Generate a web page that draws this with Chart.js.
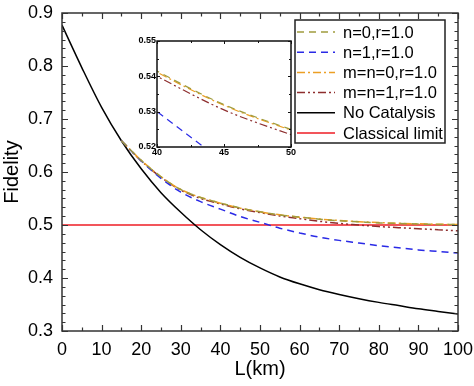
<!DOCTYPE html>
<html>
<head>
<meta charset="utf-8">
<script src="https://cdn.jsdelivr.net/npm/chart.js@4.4.0/dist/chart.umd.min.js"></script>
<style>
  html, body { margin: 0; padding: 0; background: #fff; }
  #wrap { position: relative; width: 474px; height: 386px; overflow: hidden; }
  #main { position: absolute; left: 0; top: 0; }
  #inset { position: absolute; left: 120px; top: 30px; }
</style>
</head>
<body>
<div id="wrap">
  <canvas id="main" width="474" height="386"></canvas>
  <canvas id="inset" width="180" height="135"></canvas>
</div>
<script>
// distance in km
const L = [0, 5, 10, 15, 20, 25, 30, 35, 40, 45, 50, 55, 60, 65, 70, 75, 80, 85, 90, 95, 100];

// fidelity values
const noCatalysis = [0.877, 0.797, 0.722, 0.659, 0.606, 0.561, 0.524, 0.491, 0.463, 0.439, 0.419, 0.402, 0.389, 0.378, 0.369, 0.361, 0.354, 0.348, 0.342, 0.337, 0.332];
const n0r1  = [null, null, null, 0.659, 0.622, 0.591, 0.567, 0.552, 0.5415, 0.532, 0.525, 0.519, 0.515, 0.511, 0.508, 0.506, 0.504, 0.503, 0.502, 0.501, 0.501];
const n1r1  = [null, null, null, 0.659, 0.621, 0.588, 0.562, 0.544, 0.530, 0.516, 0.505, 0.494, 0.485, 0.477, 0.471, 0.466, 0.461, 0.457, 0.453, 0.450, 0.447];
const mn0r1 = [null, null, null, 0.659, 0.622, 0.591, 0.567, 0.552, 0.5412, 0.5318, 0.5248, 0.5192, 0.5148, 0.5112, 0.5085, 0.5063, 0.5045, 0.5032, 0.5022, 0.5014, 0.5008];
const mn1r1 = [null, null, null, 0.659, 0.621, 0.590, 0.566, 0.550, 0.540, 0.5305, 0.5235, 0.517, 0.512, 0.507, 0.503, 0.500, 0.497, 0.495, 0.493, 0.491, 0.489];
const classicalL = [0, 100];
const classical = [0.5, 0.5];

const labels = ['n=0,r=1.0', 'n=1,r=1.0', 'm=n=0,r=1.0', 'm=n=1,r=1.0', 'No Catalysis', 'Classical limit'];

function pts(xs, ys) {
    return xs.map((x, i) => ({x: x, y: ys[i]})).filter(p => p.y != null);
}

function makeSets(w) {
    return [
        {label: labels[0], data: pts(L, n0r1), borderColor: '#a09c3e', borderDash: [7, 5], borderWidth: w},
        {label: labels[1], data: pts(L, n1r1), borderColor: '#2a2ae6', borderDash: [7, 5], borderWidth: w},
        {label: labels[2], data: pts(L, mn0r1), borderColor: '#ec9f24', borderDash: [8, 3, 2, 3], borderWidth: w},
        {label: labels[3], data: pts(L, mn1r1), borderColor: '#8e2e2e', borderDash: [8, 3, 2, 3, 2, 3], borderWidth: w},
        {label: labels[4], data: pts(L, noCatalysis), borderColor: '#000000', borderWidth: w},
        {label: labels[5], data: pts(classicalL, classical), borderColor: '#ee1c24', borderWidth: w}
    ].map(d => Object.assign(d, {pointRadius: 0, fill: false, cubicInterpolationMode: 'monotone'}));
}

// white plot background (used for the inset)
const whiteArea = {
    id: 'whiteArea',
    beforeDatasetsDraw(chart) {
        const {ctx, chartArea: a} = chart;
        ctx.save();
        ctx.fillStyle = '#fff';
        ctx.fillRect(a.left, a.top, a.right - a.left, a.bottom - a.top);
        ctx.restore();
    }
};

// box frame + inward ticks on all four sides
const frameTicks = {
    id: 'frameTicks',
    afterDraw(chart, args, o) {
        const {ctx, chartArea: a, scales: {x, y}} = chart;
        ctx.save();
        ctx.strokeStyle = o.color;
        ctx.lineWidth = o.width;
        ctx.strokeRect(a.left, a.top, a.right - a.left, a.bottom - a.top);
        ctx.lineWidth = o.tickWidth;
        ctx.beginPath();
        let n = Math.round((x.max - x.min) / o.xStep * o.xSub);
        for (let i = 0; i <= n; i++) {
            const px = Math.round(x.getPixelForValue(x.min + i * o.xStep / o.xSub)) + 0.5;
            const len = i % o.xSub === 0 ? o.major : o.minor;
            ctx.moveTo(px, a.bottom); ctx.lineTo(px, a.bottom - len);
            ctx.moveTo(px, a.top); ctx.lineTo(px, a.top + len);
        }
        n = Math.round((y.max - y.min) / o.yStep * o.ySub);
        for (let i = 0; i <= n; i++) {
            const py = Math.round(y.getPixelForValue(y.min + i * o.yStep / o.ySub)) + 0.5;
            const len = i % o.ySub === 0 ? o.major : o.minor;
            ctx.moveTo(a.left, py); ctx.lineTo(a.left + len, py);
            ctx.moveTo(a.right, py); ctx.lineTo(a.right - len, py);
        }
        ctx.stroke();
        ctx.restore();
    }
};

// legend box drawn inside the plot
const boxLegend = {
    id: 'boxLegend',
    afterDatasetsDraw(chart, args, o) {
        if (!o.show) return;
        const ctx = chart.ctx;
        ctx.save();
        ctx.fillStyle = '#fff';
        ctx.fillRect(o.x, o.y, o.w, o.h);
        ctx.strokeStyle = '#222';
        ctx.lineWidth = 1.5;
        ctx.strokeRect(o.x, o.y, o.w, o.h);
        ctx.font = o.font;
        ctx.textBaseline = 'middle';
        chart.data.datasets.forEach((d, i) => {
            const cy = o.y + o.first + i * o.row;
            ctx.strokeStyle = d.borderColor;
            ctx.lineWidth = 1.5;
            ctx.setLineDash(d.borderDash || []);
            ctx.beginPath();
            ctx.moveTo(o.x + 2, cy); ctx.lineTo(o.x + 40, cy);
            ctx.stroke();
            ctx.setLineDash([]);
            ctx.fillStyle = '#000';
            ctx.fillText(d.label, o.x + 48, cy + 1);
        });
        ctx.restore();
    }
};

const tickFont = {family: 'Liberation Sans, Arial, sans-serif', size: 18};

new Chart(document.getElementById('main'), {
    type: 'line',
    data: {datasets: makeSets(1.5)},
    plugins: [frameTicks, boxLegend],
    options: {
        responsive: false,
        animation: false,
        devicePixelRatio: 1,
        layout: {padding: {left: 0, right: 16, top: 13, bottom: 0}},
        plugins: {
            legend: {display: false},
            tooltip: {enabled: false},
            frameTicks: {color: '#333', width: 1.5, tickWidth: 1.2, major: 6, minor: 3.5, xStep: 10, xSub: 2, yStep: 0.1, ySub: 6},
            boxLegend: {show: true, x: 295, y: 20, w: 150, h: 123, first: 12, row: 20.2, font: '16.5px Liberation Sans, Arial, sans-serif'}
        },
        scales: {
            x: {
                type: 'linear', min: 0, max: 100,
                grid: {display: false, drawTicks: false}, border: {display: false},
                ticks: {stepSize: 10, font: tickFont, color: '#000', padding: 8, maxRotation: 0},
                title: {display: true, text: 'L(km)', font: {family: tickFont.family, size: 20}, color: '#000', padding: {top: 0, bottom: 5}},
                afterFit: s => { s.height = 55; s.paddingLeft = 0; s.paddingRight = 0; }
            },
            y: {
                min: 0.3, max: 0.9,
                grid: {display: false, drawTicks: false}, border: {display: false},
                ticks: {stepSize: 0.1, font: tickFont, color: '#000', padding: 9, callback: v => v.toFixed(1)},
                title: {display: true, text: 'Fidelity', font: {family: tickFont.family, size: 20}, color: '#000', padding: {top: 0, bottom: 0}},
                afterFit: s => { s.width = 62; s.paddingTop = 0; s.paddingBottom = 0; }
            }
        }
    }
});

const insetFont = {family: 'Liberation Sans, Arial, sans-serif', size: 9, weight: 'bold'};

new Chart(document.getElementById('inset'), {
    type: 'line',
    data: {datasets: makeSets(1.2)},
    plugins: [whiteArea, frameTicks],
    options: {
        responsive: false,
        animation: false,
        devicePixelRatio: 1,
        layout: {padding: {left: 0, right: 9, top: 11, bottom: 0}},
        plugins: {
            legend: {display: false},
            tooltip: {enabled: false},
            frameTicks: {color: '#111', width: 1.5, tickWidth: 1, major: 3, minor: 2, xStep: 5, xSub: 2, yStep: 0.01, ySub: 2}
        },
        scales: {
            x: {
                type: 'linear', min: 40, max: 50,
                grid: {display: false, drawTicks: false}, border: {display: false},
                ticks: {stepSize: 5, font: insetFont, color: '#000', padding: 0, maxRotation: 0},
                afterFit: s => { s.height = 18; s.paddingLeft = 0; s.paddingRight = 0; }
            },
            y: {
                min: 0.52, max: 0.55,
                grid: {display: false, drawTicks: false}, border: {display: false},
                ticks: {stepSize: 0.01, font: insetFont, color: '#000', padding: 1, callback: v => v.toFixed(2)},
                afterFit: s => { s.width = 37; s.paddingTop = 0; s.paddingBottom = 0; }
            }
        }
    }
});
</script>
</body>
</html>
